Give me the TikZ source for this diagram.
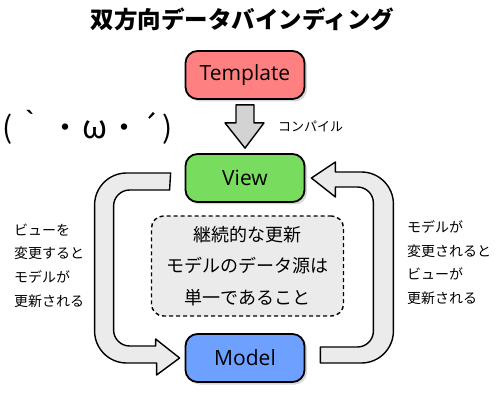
\documentclass[tikz,border=0pt]{standalone}
\usepackage{fontspec}
\setmainfont{Noto Sans CJK JP}
\newfontfamily\latinfont{Open Sans}
\usetikzlibrary{calc,shadows}
\definecolor{tmplred}{RGB}{255,128,128}
\definecolor{viewgreen}{RGB}{120,220,95}
\definecolor{modelblue}{RGB}{110,160,255}
\definecolor{loopgray}{RGB}{235,235,235}
\definecolor{compilegray}{RGB}{211,211,211}
\begin{document}
\begin{tikzpicture}[x=1pt,y=-1pt,
		part/.style={draw,line width=1.8pt,rounded corners=12pt,minimum width=119pt,minimum height=48pt,
			font=\latinfont\fontsize{21}{25}\selectfont,
			drop shadow={shadow xshift=2.5pt,shadow yshift=-2.5pt,opacity=0.3}},
		bigarrow/.style={draw,line width=1.4pt,fill=loopgray,line join=round},
		sidetext/.style={anchor=west,inner sep=0pt,align=left,font=\fontsize{14}{23.6}\selectfont}]
			\useasboundingbox (0,0) rectangle (501,401);
			\node[font=\bfseries\fontsize{23.5}{28}\selectfont] (title) at (242.5,19) {双方向データバインディング};
			\node[part,fill=tmplred] (tmpl) at (245,75) {Template};
			\node[part,fill=viewgreen] (view) at (245,178) {View};
			\node[part,fill=modelblue] (model) at (245,358) {Model};
			\node[draw,line width=1.4pt,dash pattern=on 4pt off 3pt,fill=loopgray,rounded corners=12pt,
				minimum width=192pt,minimum height=100pt,align=center,font=\fontsize{18}{31.5}\selectfont]
				(note) at (247.5,266) {継続的な更新\\モデルのデータ源は\\単一であること};
			\node[font=\fontsize{30}{30}\selectfont] (face) at (87.5,127) {(\hspace{4pt}｀\hspace{4pt}・\hspace{2pt}{\fontsize{32}{32}\selectfont ω}\hspace{2pt}・\hspace{2pt}´\hspace{2pt})};
			\node[anchor=west,inner sep=0pt,font=\fontsize{13}{13}\selectfont] (compile) at (278,126) {コンパイル};
			\node[sidetext] (lefttext) at (14,265.5) {ビューを\\変更すると\\モデルが\\更新される};
			\node[sidetext] (righttext) at (407,262.5) {モデルが\\変更されると\\ビューが\\更新される};
			\coordinate (c1) at ($(tmpl.south)+(0,5)$);
			\coordinate (c2) at ($(view.north)+(0,-5)$);
			\draw[line width=1.4pt,fill=compilegray,line join=round] ($(c1)+(-9,0)$) -- ++(18,0) -- ++(0,18) -- ++(10,0) -- (c2) -- ($(c1)+(-20,18)$) -- ++(11,0) -- cycle;
			\draw[bigarrow] ($(view.west)+(-14,-5)$) [rounded corners=32pt] -- ++(-76,0) -- ++(0,190) [sharp corners] -- ++(62,0) -- ++(0,12) -- ($(model.west)+(-5,0)$) -- ++(-24,-19) -- ++(0,7) [rounded corners=16pt] -- ++(-42,0) -- ++(0,-156) [sharp corners] -- ++(56,0) -- cycle;
			\draw[bigarrow] ($(model.east)+(15,-11)$) [rounded corners=16pt] -- ++(53,0) -- ++(0,-160) [sharp corners] -- ++(-38,0) -- ++(0,10) -- ($(view.east)+(6,0)$) -- ++(24,-16) -- ++(0,10) [rounded corners=32pt] -- ++(58,0) -- ++(0,191) [sharp corners] -- ++(-73,0) -- cycle;
		\end{tikzpicture}
\end{document}
